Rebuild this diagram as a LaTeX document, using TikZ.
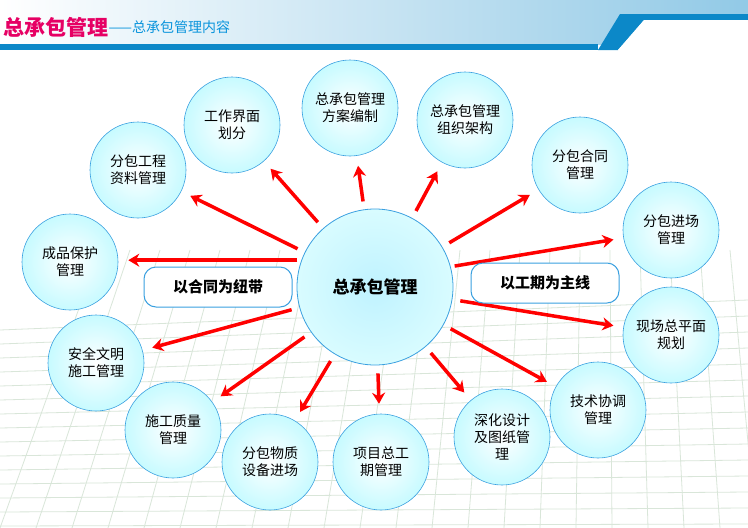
\documentclass[tikz,border=0pt]{standalone}
\usepackage{fontspec}
\newfontfamily\cjk{Noto Sans CJK SC}
\usetikzlibrary{arrows.meta,shadings}
\definecolor{bord}{HTML}{3AA0E0}
\definecolor{hdr}{HTML}{0C88C8}
\tikzset{
 sm/.style={circle,draw=bord,line width=0.6pt,inner color=white,outer color=blue!8!cyan!22,minimum size=96pt,font=\cjk\fontsize{14}{17}\selectfont,align=center,text=black},
 big/.style={circle,draw=bord,line width=0.8pt,inner color=blue!20!cyan!25,outer color=blue!8!cyan!15,minimum size=156pt,font=\cjk\bfseries\fontsize{17}{20}\selectfont},
 tag/.style={rounded corners=12pt,draw=bord,line width=1pt,fill=white,minimum width=148pt,minimum height=40pt,font=\cjk\bfseries\fontsize{15}{18}\selectfont},
 arr/.style={red,line width=3.5pt,-{Stealth[length=11pt,width=13pt]},shorten <=8pt,shorten >=10pt}
}
\begin{document}
\begin{tikzpicture}[x=1pt,y=-1pt]
\useasboundingbox (0,0) rectangle (748,528);
\fill[white] (0,0) rectangle (748,528);
% faint grid
\begin{scope}[draw=green!20!gray!25,line width=0.8pt]
\foreach \i in {0,...,14}{\draw (0,330+\i*14) -- (748,300+\i*16);}
\foreach \i in {0,...,22}{\draw (\i*36,528) -- (100+\i*30,250);}
\end{scope}
% header
\shade[left color=white,right color=hdr!45] (0,0) rectangle (748,44);
\fill[hdr] (0,44) rectangle (598,50);
\fill[hdr] (598,50) -- (620,14) -- (748,14) -- (748,20) -- (644,20) -- (618,50) -- cycle;
\fill[white] (644,20) -- (748,20) -- (748,50) -- (618,50) -- cycle;
\node[anchor=west,inner sep=0,text={rgb,255:red,230;green,0;blue,100},font=\cjk\bfseries\fontsize{21}{24}\selectfont] (t1) at (3,27) {总承包管理};
\node[anchor=west,inner sep=0,text=cyan!80!blue,font=\cjk\fontsize{14}{17}\selectfont] (t2) at (t1.east) {——总承包管理内容};
% center
\node[big] (c) at (375,287) {总承包管理};
% satellites
\node[sm] (a1) at (232,125) {工作界面\\划分};
\node[sm] (a2) at (350,108) {总承包管理\\方案编制};
\node[sm] (a3) at (465,120) {总承包管理\\组织架构};
\node[sm] (a4) at (580,165) {分包合同\\管理};
\node[sm] (a5) at (671,230) {分包进场\\管理};
\node[sm] (a6) at (671,335) {现场总平面\\规划};
\node[sm] (a7) at (598,410) {技术协调\\管理};
\node[sm] (a8) at (502,437) {深化设计\\及图纸管\\理};
\node[sm] (a9) at (381,462) {项目总工\\期管理};
\node[sm] (a10) at (270,462) {分包物质\\设备进场};
\node[sm] (a11) at (173,430) {施工质量\\管理};
\node[sm] (a12) at (96,363) {安全文明\\施工管理};
\node[sm] (a13) at (70,262) {成品保护\\管理};
\node[sm] (a14) at (138,170) {分包工程\\资料管理};
\foreach \t in {a1,a2,a3,a4,a6,a7,a8,a9,a10,a11,a12,a14}{\draw[arr] (c) -- (\t);}
\draw[arr,shorten <=4pt] (c.160) -- (a13.east |- c.160);
\draw[arr,shorten <=4pt] (c.15) -- (a5);
\node[tag] (l) at (218,287) {以合同为纽带};
\node[tag] (r) at (545,283) {以工期为主线};
\end{tikzpicture}
\end{document}
